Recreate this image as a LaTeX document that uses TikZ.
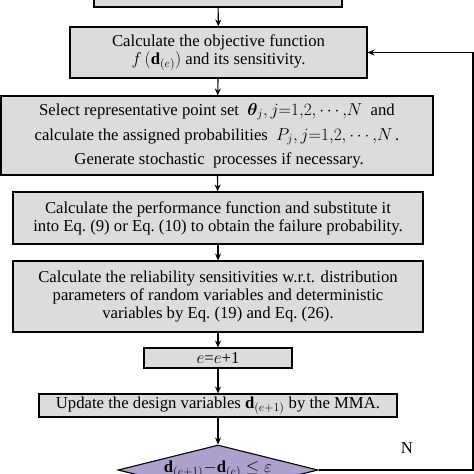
\documentclass[tikz,border=0pt]{standalone}
\usepackage{amsmath}
\usepackage{bm}
\usepackage{fontspec}
\setmainfont{Liberation Serif}
\usetikzlibrary{shapes.geometric,arrows.meta}
\definecolor{boxgray}{RGB}{220,220,220}
\definecolor{decpurple}{RGB}{173,160,204}
\tikzset{
  procbox/.style={draw, line width=1.1pt, fill=boxgray, rectangle,
    inner sep=0pt, align=center, font=\fontsize{16.7}{18}\selectfont},
  decbox/.style={draw, line width=1.1pt, fill=decpurple, diamond, aspect=4,
    inner sep=0pt, minimum width=200pt, minimum height=50pt,
    font=\fontsize{16.7}{18}\selectfont},
  flowline/.style={line width=1.1pt, -{Stealth[length=7pt,width=6pt]}}
}
\begin{document}
\begin{tikzpicture}[x=1pt, y=-1pt, line join=miter]
  % picture frame (pixel grid, y downwards)
  \useasboundingbox (0,0) rectangle (474,474);
  \clip (0,0) rectangle (474,474);

  % Process boxes, stacked on the centre line x = 218
  \node[procbox, minimum width=248pt, minimum height=40pt] (init) at (218,-13) {};
  \node[procbox, minimum width=297pt, minimum height=51pt] (obj) at (218.5,52.5)
    {Calculate the objective function\\
     $f\,(\mathbf{d}_{(e)})$ and its sensitivity.};
  \node[procbox, minimum width=432pt, minimum height=79pt] (rep) at (217,135.5)
    {Select representative point set \ $\bm{\theta}_j{,}\, j{=}1{,}2{,}\cdots{,}N$ \ and\\[7pt]
     calculate the assigned probabilities \ $P_j{,}\, j{=}1{,}2{,}\cdots{,}N$\,.\\[6pt]
     \ Generate stochastic \ processes if necessary.};
  \node[procbox, minimum width=410pt, minimum height=52pt] (perf) at (218,218)
    {Calculate the performance function and substitute it\\
     into Eq.~(9) or Eq.~(10) to obtain the failure probability.};
  \node[procbox, minimum width=410pt, minimum height=71pt] (sens) at (218,296.5)
    {Calculate the reliability sensitivities w.r.t. distribution\\
     parameters of random variables and deterministic\\
     variables by Eq.~(19) and Eq.~(26).};
  \node[procbox, minimum width=148pt, minimum height=20pt] (incr) at (218,358)
    {$e$=$e$+1};
  \node[procbox, minimum width=358pt, minimum height=23pt] (upd) at (218,405.5)
    {Update the design variables $\mathbf{d}_{(e+1)}$ by the MMA.};

  % Convergence check
  \node[decbox] (conv) at (218,470)
    {$\mathbf{d}_{(e+1)}\mathord{-}\mathbf{d}_{(e)}\leq\varepsilon$};

  % Main flow
  \draw[flowline] (init) -- (obj);
  \draw[flowline] (obj) -- (rep);
  \draw[flowline] (rep) -- (perf);
  \draw[flowline] (perf) -- (sens);
  \draw[flowline] (sens) -- (incr);
  \draw[flowline] (incr) -- (upd);
  \draw[flowline] (upd) -- (conv);

  % Loop back when not converged
  \coordinate (loopR) at (473,0);
  \draw[flowline] (conv.east) -- (conv.east -| loopR) -- (obj.east -| loopR) -- (obj.east);
  \node[font=\fontsize{16.7}{18}\selectfont] (no) at (407,448) {N};
\end{tikzpicture}
\end{document}
